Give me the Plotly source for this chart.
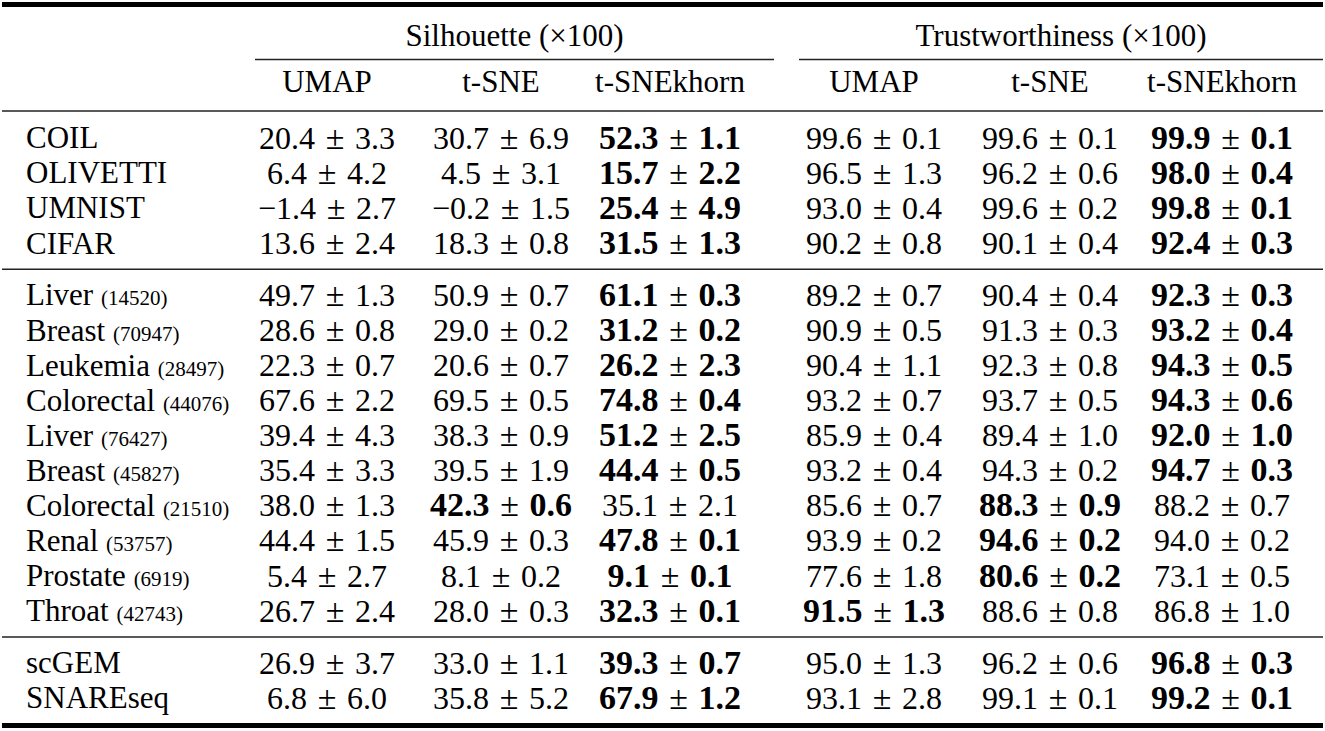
import plotly.graph_objects as go

# dataset names and sample counts (None when not shown)
datasets = ["COIL", "OLIVETTI", "UMNIST", "CIFAR",
            "Liver", "Breast", "Leukemia", "Colorectal", "Liver", "Breast",
            "Colorectal", "Renal", "Prostate", "Throat",
            "scGEM", "SNAREseq"]
sizes = [None, None, None, None,
         "14520", "70947", "28497", "44076", "76427", "45827",
         "21510", "53757", "6919", "42743",
         None, None]
groups = [0, 0, 0, 0, 1, 1, 1, 1, 1, 1, 1, 1, 1, 1, 2, 2]

metrics = ["Silhouette (×100)", "Trustworthiness (×100)"]
methods = ["UMAP", "t-SNE", "t-SNEkhorn"]

sil_umap_mean = [20.4, 6.4, -1.4, 13.6, 49.7, 28.6, 22.3, 67.6, 39.4, 35.4, 38.0, 44.4, 5.4, 26.7, 26.9, 6.8]
sil_umap_std = [3.3, 4.2, 2.7, 2.4, 1.3, 0.8, 0.7, 2.2, 4.3, 3.3, 1.3, 1.5, 2.7, 2.4, 3.7, 6.0]
sil_tsne_mean = [30.7, 4.5, -0.2, 18.3, 50.9, 29.0, 20.6, 69.5, 38.3, 39.5, 42.3, 45.9, 8.1, 28.0, 33.0, 35.8]
sil_tsne_std = [6.9, 3.1, 1.5, 0.8, 0.7, 0.2, 0.7, 0.5, 0.9, 1.9, 0.6, 0.3, 0.2, 0.3, 1.1, 5.2]
sil_khorn_mean = [52.3, 15.7, 25.4, 31.5, 61.1, 31.2, 26.2, 74.8, 51.2, 44.4, 35.1, 47.8, 9.1, 32.3, 39.3, 67.9]
sil_khorn_std = [1.1, 2.2, 4.9, 1.3, 0.3, 0.2, 2.3, 0.4, 2.5, 0.5, 2.1, 0.1, 0.1, 0.1, 0.7, 1.2]

tw_umap_mean = [99.6, 96.5, 93.0, 90.2, 89.2, 90.9, 90.4, 93.2, 85.9, 93.2, 85.6, 93.9, 77.6, 91.5, 95.0, 93.1]
tw_umap_std = [0.1, 1.3, 0.4, 0.8, 0.7, 0.5, 1.1, 0.7, 0.4, 0.4, 0.7, 0.2, 1.8, 1.3, 1.3, 2.8]
tw_tsne_mean = [99.6, 96.2, 99.6, 90.1, 90.4, 91.3, 92.3, 93.7, 89.4, 94.3, 88.3, 94.6, 80.6, 88.6, 96.2, 99.1]
tw_tsne_std = [0.1, 0.6, 0.2, 0.4, 0.4, 0.3, 0.8, 0.5, 1.0, 0.2, 0.9, 0.2, 0.2, 0.8, 0.6, 0.1]
tw_khorn_mean = [99.9, 98.0, 99.8, 92.4, 92.3, 93.2, 94.3, 94.3, 92.0, 94.7, 88.2, 94.0, 73.1, 86.8, 96.8, 99.2]
tw_khorn_std = [0.1, 0.4, 0.1, 0.3, 0.3, 0.4, 0.5, 0.6, 1.0, 0.3, 0.7, 0.2, 0.5, 1.0, 0.3, 0.1]

# layout (axis units = pixels)
W, H = 1325, 731
FONT = "Liberation Serif"
FS = 31          # text size
NUM_FS = 32      # numbers
BOLD_FS = 34     # bold numbers
PM_FS = 34       # the ± sign, a bit larger as in TeX
label_x = 26
col_x = [327, 501, 670, 874, 1050, 1222]
metric_span = [(255, 774), (799, 1323)]
header1_y, header2_y = 36, 82
row0_y, row_step, group_gap = 138, 35.1, 16.8
text_dy = 2.5
rule_x = (2, 1323)

row_y = []
for i, g in enumerate(groups):
    row_y.append(row0_y + i * row_step + g * group_gap)
text_y = [y + text_dy for y in row_y]

PM = f"\u2004<span style='font-size:{PM_FS}px'>±</span>\u2004"


def fmt(v):
    return f"{v:.1f}".replace("-", "−")


def cell_texts(means, stds, best):
    out = []
    for m, s, b in zip(means, stds, best):
        if b:
            bs = f"<span style='font-size:{BOLD_FS}px'>"
            out.append(f"<b>{bs}{fmt(m)}</span></b>{PM}<b>{bs}{fmt(s)}</span></b>")
        else:
            out.append(f"{fmt(m)}{PM}{fmt(s)}")
    return out


columns = [
    (sil_umap_mean, sil_umap_std), (sil_tsne_mean, sil_tsne_std), (sil_khorn_mean, sil_khorn_std),
    (tw_umap_mean, tw_umap_std), (tw_tsne_mean, tw_tsne_std), (tw_khorn_mean, tw_khorn_std),
]

fig = go.Figure()

# row labels
labels = []
for name, n in zip(datasets, sizes):
    if n:
        labels.append(f"{name} <span style='font-size:21px'>({n})</span>")
    else:
        labels.append(name)
fig.add_trace(go.Scatter(x=[label_x] * len(labels), y=text_y, text=labels, mode="text",
                         textposition="middle right", textfont=dict(family=FONT, size=FS, color="black"),
                         hoverinfo="skip"))

# value columns, best mean per metric in bold
for k in range(2):
    block = columns[3 * k:3 * k + 3]
    for j, (means, stds) in enumerate(block):
        best = []
        for r in range(len(datasets)):
            top = max(c[0][r] for c in block)
            best.append(means[r] == top)
        fig.add_trace(go.Scatter(x=[col_x[3 * k + j]] * len(means), y=text_y,
                                 text=cell_texts(means, stds, best), mode="text",
                                 textposition="middle center",
                                 textfont=dict(family=FONT, size=NUM_FS, color="black"),
                                 hoverinfo="skip"))

# headers
fig.add_trace(go.Scatter(x=[(a + b) / 2 for a, b in metric_span], y=[header1_y + text_dy] * 2, text=metrics,
                         mode="text", textposition="middle center",
                         textfont=dict(family=FONT, size=FS, color="black"), hoverinfo="skip"))
fig.add_trace(go.Scatter(x=col_x, y=[header2_y + text_dy] * 6, text=methods * 2, mode="text",
                         textposition="middle center",
                         textfont=dict(family=FONT, size=FS, color="black"), hoverinfo="skip"))

# booktabs rules
top_rule = 4.5
cmid_y = 59.5
mid_rules = [111]
for i in range(1, len(groups)):
    if groups[i] != groups[i - 1]:
        mid_rules.append((row_y[i - 1] + row_y[i]) / 2)
bottom_rule = 725.5

shapes = [
    dict(type="line", x0=rule_x[0], x1=rule_x[1], y0=top_rule, y1=top_rule, line=dict(color="black", width=5)),
    dict(type="line", x0=rule_x[0], x1=rule_x[1], y0=bottom_rule, y1=bottom_rule, line=dict(color="black", width=5)),
]
for y in mid_rules:
    shapes.append(dict(type="line", x0=rule_x[0], x1=rule_x[1], y0=y, y1=y, line=dict(color="#222", width=1.6)))
for a, b in metric_span:
    shapes.append(dict(type="line", x0=a, x1=b, y0=cmid_y, y1=cmid_y, line=dict(color="#222", width=1.3)))
for s in shapes:
    s.update(xref="x", yref="y")

fig.update_layout(
    width=W, height=H, margin=dict(l=0, r=0, t=0, b=0),
    paper_bgcolor="white", plot_bgcolor="white", showlegend=False,
    shapes=shapes,
    xaxis=dict(range=[0, W], visible=False, fixedrange=True),
    yaxis=dict(range=[H, 0], visible=False, fixedrange=True),
)

# drop the default page margin so the figure sits at the window origin
fig.write_html("out.html", config={"displayModeBar": False},
               post_script="document.body.style.margin = '0';")
